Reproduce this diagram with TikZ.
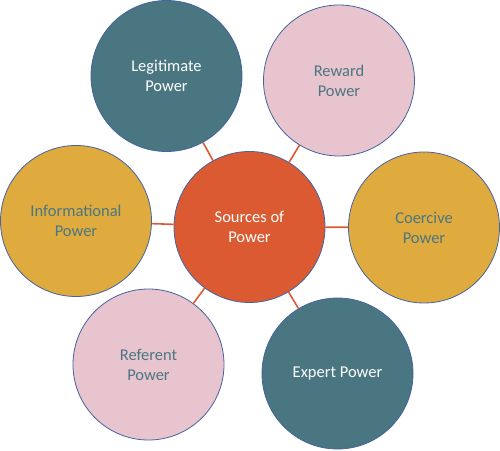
\documentclass[tikz,border=0pt]{standalone}
\usepackage{fontspec}
\setmainfont{Carlito}
\usepackage{tikz}
\usetikzlibrary{positioning}
\definecolor{teal}{HTML}{4A7682}
\definecolor{rose}{HTML}{E8C4CF}
\definecolor{gold}{HTML}{DFAB3E}
\definecolor{flame}{HTML}{DB5A32}
\definecolor{rim}{HTML}{4463A0}

\begin{document}
\begin{tikzpicture}[x=1pt,y=-1pt,
      src/.style={circle,draw=rim,line width=0.8pt,minimum size=151pt,
                  inner sep=0pt,align=center,font=\fontsize{16.5}{20}\selectfont},
      dark/.style={src,fill=teal,text=white},
      light/.style={src,fill=rose,text=teal},
      warm/.style={src,fill=gold,text=teal},
      link/.style={flame,line width=1.6pt}]
    \useasboundingbox (0,0) rectangle (500,450);
    \node[src,fill=flame,text=white] (core) at (249.5,227) {Sources of\\Power};
    \node[dark]  (legit) at (166.5,76)   {Legitimate\\Power};
    \node[light] (reward) at (339,80.5)  {Reward\\Power};
    \node[warm]  (coerce) at (424,227.5) {Coercive\\Power};
    \node[dark]  (expert) at (337.5,373.5) {Expert Power};
    \node[light] (refer) at (148.5,364.5) {Referent\\Power};
    \node[warm]  (inform) at (76,221)    {Informational\\Power};
    \foreach \n in {legit,reward,coerce,expert,refer,inform}
      \draw[link] (core) -- (\n);
  \end{tikzpicture}
\end{document}
